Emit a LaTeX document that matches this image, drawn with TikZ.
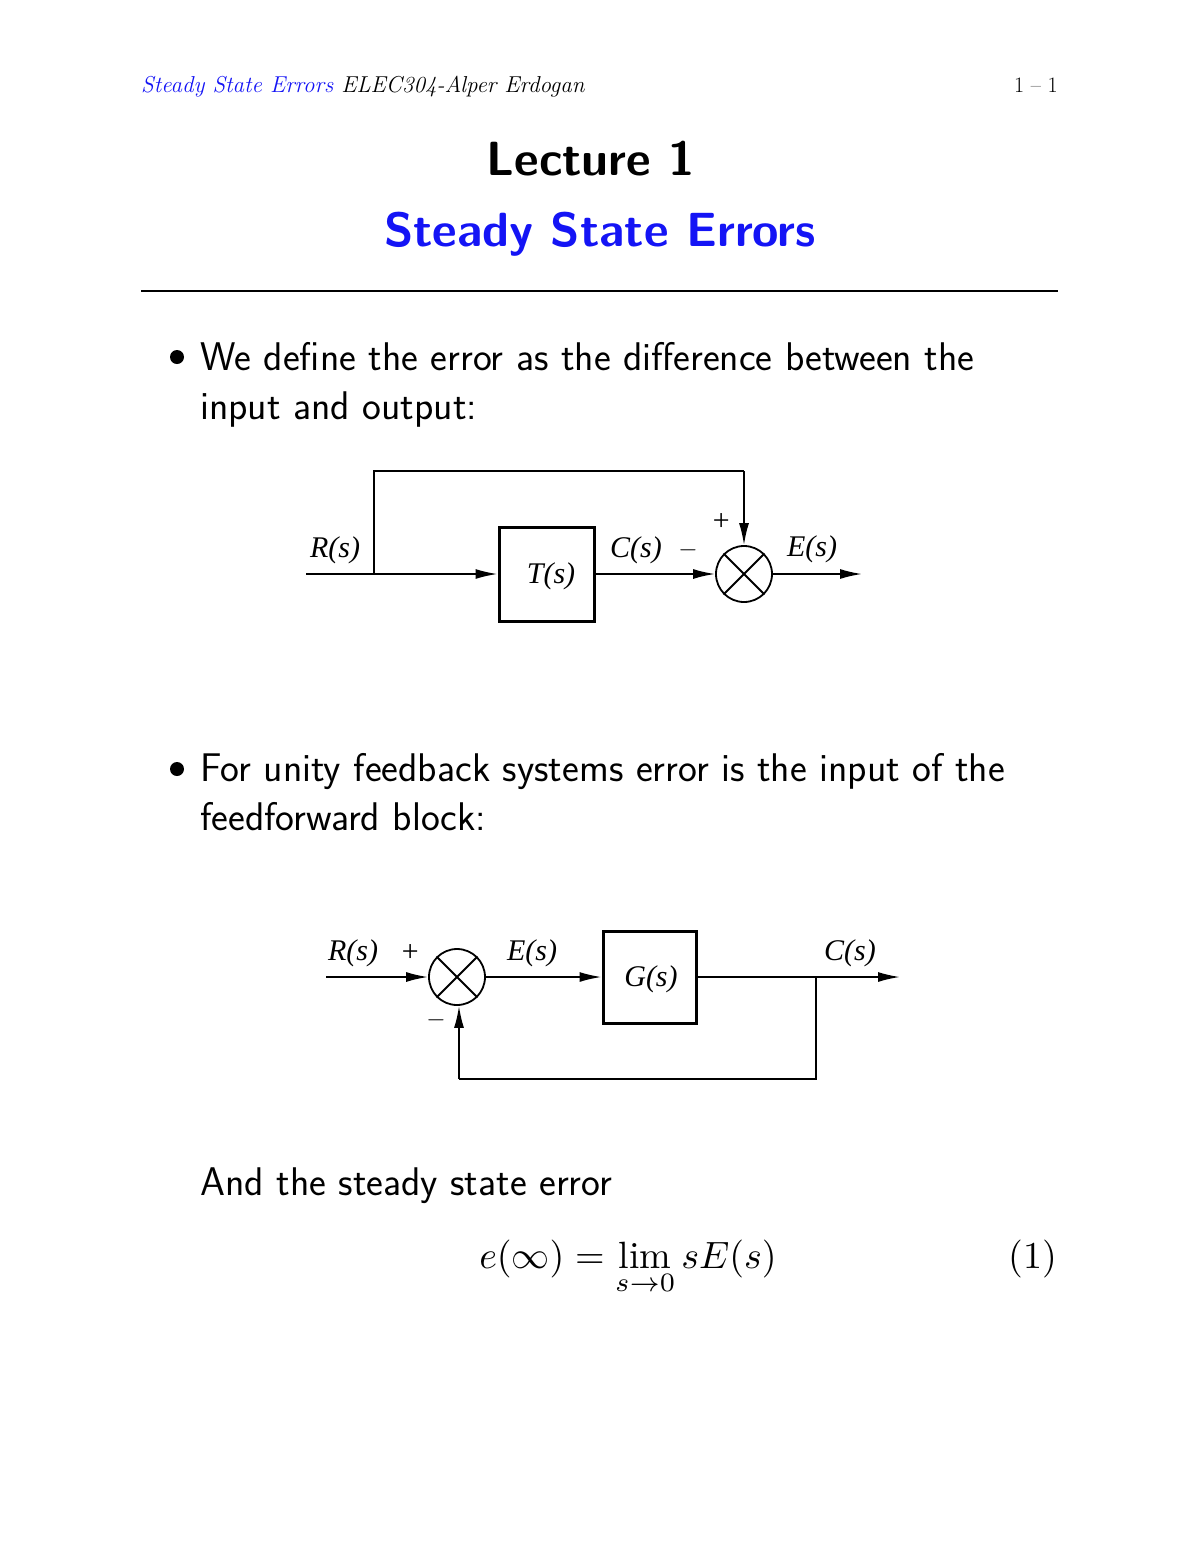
\documentclass[tikz,border=0pt]{standalone}
\usepackage{fontspec}
\usepackage{amsmath}
\newfontfamily\tms{Liberation Serif}
\usetikzlibrary{arrows.meta}
\definecolor{tblue}{RGB}{20,20,245}
\begin{document}
\begin{tikzpicture}[x=1pt,y=-1pt,
 wire/.style={line width=1.8pt},
 arr/.style={wire,-{Latex[length=22pt,width=10pt]}},
 blk/.style={draw,line width=3pt,minimum width=95pt,minimum height=94pt,inner sep=0pt},
 sumc/.style={draw,line width=1.8pt,circle,minimum size=56pt,inner sep=0pt},
 lab/.style={font=\fontsize{30}{30}\selectfont\tms\itshape,inner sep=0pt},
 body/.style={font=\fontsize{40}{48}\selectfont\sffamily,anchor=base west,inner sep=0pt}]
\useasboundingbox (0,0) rectangle (1200,1553);
% header
\node[anchor=base west,inner sep=0pt,font=\fontsize{23}{23}\selectfont\itshape] (hd) at (141,92) {\textcolor{tblue}{Steady State Errors} ELEC304-Alper Erdogan};
\node[anchor=base east,inner sep=0pt,font=\fontsize{22}{22}\selectfont] (pg) at (1058,92) {1 -- 1};
\node[inner sep=0pt,font=\fontsize{48}{48}\selectfont\sffamily\bfseries,anchor=base] (t1) at (591,175) {Lecture 1};
\node[inner sep=0pt,font=\fontsize{48}{48}\selectfont\sffamily\bfseries,anchor=base,text=tblue] (t2) at (600,246) {Steady State Errors};
\draw[line width=2.4pt] (141,291) -- (1058,291);
% bullet 1
\fill (177,357) circle (7pt);
\node[body] (b1) at (200,370) {We define the error as the difference between the};
\node[body] (b1b) at (200,419) {input and output:};
% diagram 1
\node[blk] (T) at (546.5,574) {};
\node[lab] at (551,576) {T(s)};
\node[sumc] (S1) at (744,574) {};
\draw[line width=1.8pt] (S1.north west) -- (S1.south east) (S1.north east) -- (S1.south west);
\coordinate (r1) at (306,574);
\coordinate (tap1) at (374,574);
\coordinate (o1) at (862,574);
\draw[arr] (r1) -- (T.west);
\draw[wire] (tap1) -- (374,471) -- (744,471);
\draw[arr] (744,471) -- (S1.north);
\draw[arr] (T.east) -- (S1.west);
\draw[arr] (S1.east) -- (o1);
\node[lab] at (335,550) {R(s)};
\node[lab] at (636,550) {C(s)};
\node[lab] at (688,550) {$-$};
\node[lab] at (721,522) {+};
\node[lab] at (812,549) {E(s)};
% bullet 2
\fill (177,769) circle (7pt);
\node[body] (b2) at (200,781) {For unity feedback systems error is the input of the};
\node[body] (b2b) at (200,830) {feedforward block:};
% diagram 2
\node[sumc] (S2) at (457,977) {};
\draw[line width=1.8pt] (S2.north west) -- (S2.south east) (S2.north east) -- (S2.south west);
\node[blk,minimum width=93pt,minimum height=92pt] (G) at (649.5,977) {};
\node[lab] at (651,979) {G(s)};
\coordinate (r2) at (326,977);
\coordinate (o2) at (900,977);
\coordinate (tap2) at (816,977);
\coordinate (fb) at (459,1079);
\draw[arr] (r2) -- (S2.west);
\draw[arr] (S2.east) -- (G.west);
\draw[arr] (G.east) -- (o2);
\draw[wire] (tap2) -- (816,1079) -- (fb);
\draw[arr] (fb) -- (fb |- S2.south);
\node[lab] at (353,953) {R(s)};
\node[lab] at (410,953) {+};
\node[lab] at (436,1020) {$-$};
\node[lab] at (532,953) {E(s)};
\node[lab] at (850,953) {C(s)};
% text
\node[body] (t3) at (200,1195) {And the steady state error};
\node[inner sep=0pt,anchor=base,scale=3.8] (eq) at (628,1268) {$e(\infty)=\lim\limits_{s\to0}sE(s)$};
\node[inner sep=0pt,anchor=base east,scale=3.8] (eqn) at (1058,1268) {(1)};
\end{tikzpicture}
\end{document}
